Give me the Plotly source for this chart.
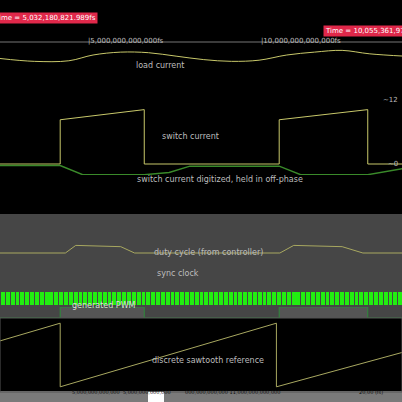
import plotly.graph_objects as go
import numpy as np

# time in microseconds
load_t = [2.5, 3.5, 4.5, 5.2, 6.0, 6.8, 7.6, 8.4, 9.2, 10.0, 10.8, 11.6, 12.4, 13.2, 14.2]
load_v = [10.0, 9.75, 9.8, 10.3, 10.55, 10.5, 10.2, 9.9, 9.75, 9.85, 10.3, 10.55, 10.7, 10.4, 10.2]

sw_t = [2.5, 4.25, 4.25, 6.68, 6.68, 10.58, 10.58, 13.14, 13.14, 14.2]
sw_v = [0.0, 0.0, 8.3, 10.2, 0.0, 0.0, 8.3, 10.2, 0.0, 0.0]

dig_t = [2.5, 4.25, 4.9, 6.68, 7.4, 8.0, 10.58, 11.2, 13.14, 13.8, 14.2]
dig_v = [-0.3, -0.3, -2.0, -2.0, -1.6, -0.4, -0.4, -2.0, -2.0, -1.2, -0.8]

duty_t = [2.5, 4.4, 4.7, 6.0, 6.4, 10.6, 11.0, 12.4, 13.0, 14.2]
duty_v = [0.50, 0.50, 0.56, 0.55, 0.50, 0.50, 0.56, 0.55, 0.50, 0.50]

pwm_t = [2.5, 4.25, 4.25, 6.68, 6.68, 10.58, 10.58, 13.14, 13.14, 14.2]
pwm_v = [0, 0, 1, 1, 0, 0, 1, 1, 0, 0]

saw_t = [2.5, 4.25, 4.25, 10.5, 10.5, 14.2]
saw_v = [0.72, 1.0, 0.0, 1.0, 0.0, 0.55]

clk_period = 0.14
clk_t = np.arange(2.4, 14.3, clk_period)

tick_vals = [5.0, 10.0]
tick_text = ["|5,000,000,000,000fs", "|10,000,000,000,000fs"]
sw_axis_ticks = [0, 12]
sw_axis_text = ["~0", "~12"]

X0, X1 = 2.51, 14.13
def dom(top_px, bot_px):
    return [1 - bot_px / 402, 1 - top_px / 402]

fig = go.Figure()
ylw = "#c8c86a"
fig.add_trace(go.Scatter(x=load_t, y=load_v, yaxis="y", mode="lines", line=dict(color=ylw, width=1), line_shape="spline"))
fig.add_trace(go.Scatter(x=sw_t, y=sw_v, yaxis="y2", mode="lines", line=dict(color=ylw, width=1)))
fig.add_trace(go.Scatter(x=dig_t, y=dig_v, yaxis="y2", mode="lines", line=dict(color="#3a8a2a", width=1.5)))
fig.add_trace(go.Scatter(x=duty_t, y=duty_v, yaxis="y3", mode="lines", line=dict(color="#a8a860", width=1)))
fig.add_trace(go.Bar(x=clk_t + clk_period * 0.4, y=[1] * len(clk_t), width=clk_period * 0.8,
                     yaxis="y4", marker=dict(color="#22ee11", line=dict(width=0))))
fig.add_trace(go.Scatter(x=pwm_t, y=pwm_v, yaxis="y5", mode="lines", fill="tozeroy", fillcolor="#555555",
                         line=dict(color="#2e8b3a", width=1)))
fig.add_trace(go.Scatter(x=saw_t, y=saw_v, yaxis="y6", mode="lines", line=dict(color="#a8a860", width=1)))

ax = dict(showgrid=False, zeroline=False, showticklabels=False, fixedrange=True)
fig.update_layout(
    width=402, height=402, margin=dict(l=0, r=0, t=0, b=0, autoexpand=False),
    paper_bgcolor="black", plot_bgcolor="black", showlegend=False, bargap=0,
    xaxis=dict(range=[X0, X1], domain=[0, 1], showgrid=False, zeroline=False, showticklabels=False),
    yaxis=dict(domain=dom(40, 70), range=[9.0, 11.6], **ax),
    yaxis2=dict(domain=dom(95, 175), range=[-2.06, 12.94], **ax),
    yaxis3=dict(domain=dom(215, 291), range=[0.2, 0.8], **ax),
    yaxis4=dict(domain=dom(292, 305), range=[0, 1], **ax),
    yaxis5=dict(domain=dom(307, 318), range=[0, 1], **ax),
    yaxis6=dict(domain=dom(320, 390), range=[-0.05, 1.05], **ax),
)
shapes = [
    dict(type="rect", xref="paper", yref="paper", x0=0, x1=1, y0=1 - 305 / 402, y1=1 - 214 / 402,
         fillcolor="#464646", line_width=0, layer="below"),
    dict(type="rect", xref="paper", yref="paper", x0=0, x1=1, y0=1 - 318 / 402, y1=1 - 305 / 402,
         fillcolor="#464646", line_width=0, layer="below"),
    dict(type="line", xref="paper", yref="paper", x0=0, x1=1, y0=1 - 42 / 402, y1=1 - 42 / 402,
         line=dict(color="#777777", width=1)),
    dict(type="rect", xref="paper", yref="paper", x0=0, x1=1, y0=0, y1=1 - 391 / 402,
         fillcolor="#7a7a7a", line_width=0),
    dict(type="rect", xref="paper", yref="paper", x0=0, x1=1, y0=1 - 392 / 402, y1=1 - 318 / 402,
         fillcolor="rgba(0,0,0,0)", line=dict(color="#555555", width=1)),
]
fig.update_layout(shapes=shapes)

gray = "#bdbdbd"
def lab(text, xp, yp, size=8, color=gray, **kw):
    fig.add_annotation(text=text, x=xp / 402, y=1 - yp / 402, xref="paper", yref="paper",
                       showarrow=False, font=dict(size=size, color=color, family="DejaVu Sans"), **kw)

for v, t in zip(tick_vals, tick_text):
    fig.add_annotation(text=t, x=v, xref="x", y=1 - 35 / 402, yref="paper", showarrow=False,
                       xanchor="left", font=dict(size=7, color=gray, family="DejaVu Sans"))
for v, t in zip(sw_axis_ticks, sw_axis_text):
    fig.add_annotation(text=t, x=0.995, xref="paper", y=v, yref="y2", showarrow=False, xanchor="right",
                       font=dict(size=7, color=gray, family="DejaVu Sans"))

lab("load current", 160, 59)
lab("switch current", 190, 130)
lab("switch current digitized, held in off-phase", 220, 180)
lab("duty cycle (from controller)", 208, 252)
lab("sync clock", 178, 280)
lab("generated PWM", 104, 312, color="#dddddd", xanchor="center")
lab("discrete sawtooth reference", 208, 367)
lab("Time = 5,032,180,821.989fs", 45, 12, size=7, color="white", bgcolor="#e0284a", xanchor="center")
lab("Time = 10,055,361,97", 365, 25, size=7, color="white", bgcolor="#e0284a", xanchor="center")
lab("5,000,000,000,000  5,000,000,000,000", 70, 397, size=5, color="#111111")
lab("000,000,000,000 11,000,000,000,000", 232, 397, size=5, color="#111111")
lab("20,00 (fs)", 385, 397, size=5, color="#111111")
fig.add_shape(type="rect", xref="paper", yref="paper", x0=148 / 402, x1=164 / 402, y0=0, y1=10 / 402,
              fillcolor="white", line_width=0)

fig.write_html("out.html", config={"displayModeBar": False},
               post_script="document.body.style.margin='0';document.body.style.overflow='hidden';")
